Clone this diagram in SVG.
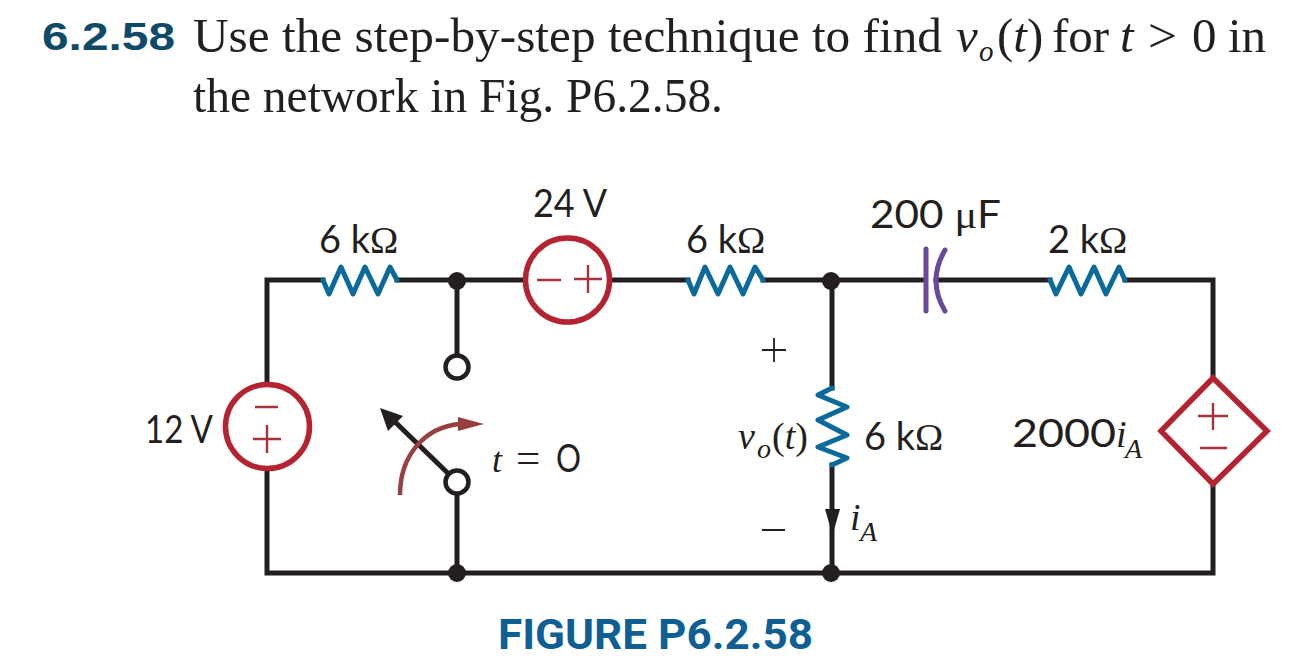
<svg xmlns="http://www.w3.org/2000/svg" width="1291" height="668" viewBox="0 0 1291 668">
<style>
.w{fill:none;stroke:#231f20;stroke-width:5;stroke-linecap:square;stroke-linejoin:miter}
.r{fill:none;stroke:#0b6a9c;stroke-width:5;stroke-linejoin:round;stroke-linecap:round}
.s{fill:#fff;stroke:#b4232f;stroke-width:5.5}
.p{fill:none;stroke:#a8323c;stroke-width:2.4}
.c{fill:#fff;stroke:#231f20;stroke-width:4.5}
.d{fill:#231f20}
.t{font-family:"Liberation Serif",serif;font-size:49px;fill:#231f20}
.l{font-family:Lato,"Open Sans",sans-serif;font-size:38px;fill:#231f20}
.o{font-family:"Liberation Serif",serif}
.i{font-family:"Liberation Serif",serif;font-style:italic;fill:#231f20}
</style>
<rect width="1291" height="668" fill="#fff"/>
<g id="problem-text">
<text x="42" y="50" font-family="'Liberation Sans',sans-serif" font-weight="bold" font-size="38" fill="#0f4a68" textLength="133" lengthAdjust="spacingAndGlyphs">6.2.58</text>
<text class="t" x="193" y="52" textLength="749" lengthAdjust="spacingAndGlyphs">Use the step-by-step technique to find</text>
<text class="t" x="956" y="52" font-style="italic">v</text>
<text class="i" x="979" y="61" font-size="29">o</text>
<text class="t" x="997" y="52">(<tspan font-style="italic">t</tspan>)</text>
<text class="t" x="1052" y="52">for</text>
<text class="t" x="1120" y="52" font-style="italic">t</text>
<text class="t" x="1148" y="52" textLength="29" lengthAdjust="spacingAndGlyphs">&gt;</text>
<text class="t" x="1192" y="52">0</text>
<text class="t" x="1228" y="52">in</text>
<text class="t" x="193" y="112" textLength="530" lengthAdjust="spacingAndGlyphs">the network in Fig. P6.2.58.</text>
</g>
<g id="connectors">
<path class="w" d="M267 394V280H323M397 280H524M610 280H688M763 280H925M936 280H1050M1125 280H1213V377M1213 485V573H267V470"/>
<path class="w" d="M457 280V355M457 494V573M832 280V388M832 465V573"/>
<path class="w" d="M457 482L392 419"/>
<path class="d" d="M380 408L403 416L388 431Z"/>
<path class="d" d="M825 509H840L832.500 535Z"/>
<path d="M400 495C400 455 425 427 460 424" fill="none" stroke="#9a3f3f" stroke-width="4.500"/>
<path d="M458 417L484 424L458 431Z" fill="#9a3f3f"/>
</g>
<g id="junctions">
<circle class="d" cx="457" cy="281" r="9"/>
<circle class="d" cx="831" cy="281" r="9"/>
<circle class="d" cx="457" cy="573" r="9"/>
<circle class="d" cx="831" cy="573" r="9"/>
</g>
<g id="switch">
<circle class="c" cx="457" cy="367" r="11.500"/>
<circle class="c" cx="457" cy="482" r="11.500"/>
<text class="i" x="492" y="472" font-size="36">t</text>
<text x="516" y="472" font-family="'Liberation Serif',serif" font-size="43" fill="#231f20">=</text>
<text class="l" x="556" y="472" textLength="25" lengthAdjust="spacingAndGlyphs">O</text>
</g>
<g id="r1">
<path class="r" d="M323 280L329 294L341 267L353 294L365 267L378 294L390 267L397 280"/>
<text class="l" x="319" y="253">6 k<tspan class="o">Ω</tspan></text>
</g>
<g id="r2">
<path class="r" d="M688 280L694 294L705 267L718 294L730 267L743 294L755 267L763 280"/>
<text class="l" x="686" y="253">6 k<tspan class="o">Ω</tspan></text>
</g>
<g id="r3">
<path class="r" d="M1050 280L1056 294L1069 267L1081 294L1094 267L1106 294L1119 267L1125 280"/>
<text class="l" x="1048" y="253">2 k<tspan class="o">Ω</tspan></text>
</g>
<g id="r4">
<path class="r" d="M832 388L818 395L847 407L818 420L847 435L818 447L847 458L832 465"/>
<text class="l" x="864" y="450">6 k<tspan class="o">Ω</tspan></text>
</g>
<g id="v12">
<circle class="s" cx="267.500" cy="426.500" r="42"/>
<path class="p" d="M255 407H278M253 439H281M267 425V453"/>
<text class="l" x="145" y="443" textLength="68" lengthAdjust="spacingAndGlyphs">12 V</text>
</g>
<g id="v24">
<circle class="s" cx="567.500" cy="280" r="42"/>
<path class="p" d="M537 280H561M574 279H602M588 265V293"/>
<text class="l" x="533" y="217" textLength="74" lengthAdjust="spacingAndGlyphs">24 V</text>
</g>
<g id="cap">
<path d="M926 249V311" fill="none" stroke="#69499b" stroke-width="5" stroke-linecap="round"/>
<path d="M945 250Q927 281 945 311" fill="none" stroke="#69499b" stroke-width="5" stroke-linecap="round"/>
<text class="l" x="870" y="228" textLength="131" lengthAdjust="spacingAndGlyphs">200 <tspan class="o">μ</tspan>F</text>
</g>
<g id="dep">
<path class="s" d="M1213 378L1267 431L1213 484L1161 431Z"/>
<path class="p" d="M1198 416H1228M1213 403V430M1200 448H1227"/>
<text class="l" x="1012" y="447" textLength="104" lengthAdjust="spacingAndGlyphs">2000</text>
<text class="i" x="1116" y="447" font-size="38">i</text>
<text class="i" x="1125" y="458" font-size="28">A</text>
</g>
<g id="vo">
<path d="M762 350H786M774 338V362M762 530H785" fill="none" stroke="#231f20" stroke-width="1.800"/>
<text class="i" x="738" y="449" font-size="38">v</text>
<text class="i" x="757" y="458" font-size="28">o</text>
<text class="i" x="772" y="449" font-size="38"><tspan font-style="normal">(</tspan>t<tspan font-style="normal">)</tspan></text>
<text class="i" x="850" y="530" font-size="38">i</text>
<text class="i" x="860" y="541" font-size="28">A</text>
</g>
<text id="caption" x="498" y="649" font-family="Roboto,'Liberation Sans',sans-serif" font-weight="700" font-size="43" fill="#0f5f94" textLength="315" lengthAdjust="spacingAndGlyphs">FIGURE P6.2.58</text>
</svg>
